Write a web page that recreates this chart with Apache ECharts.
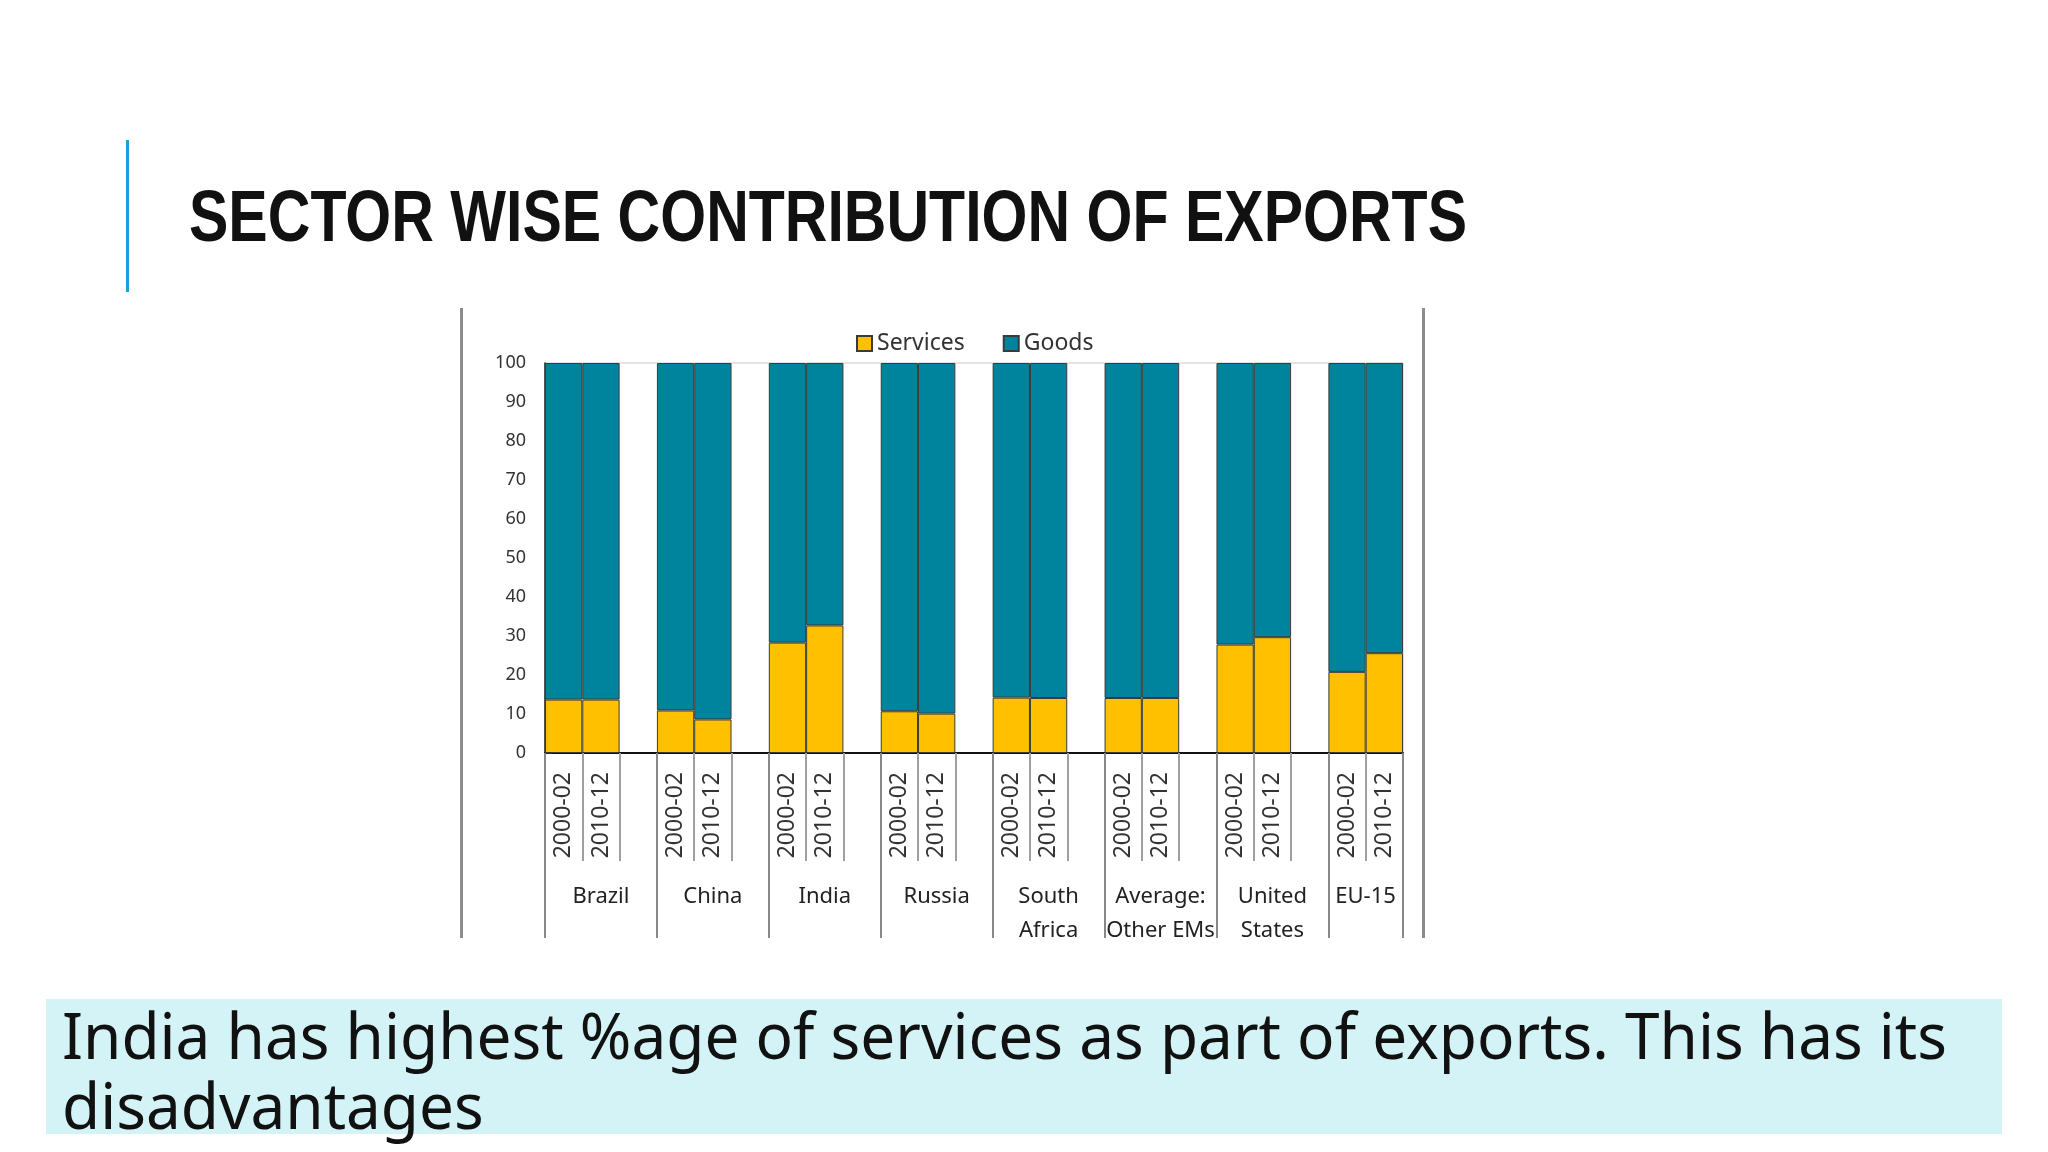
<!DOCTYPE html>
<html>
<head>
<meta charset="utf-8">
<title>Sector wise contribution of exports</title>
<script src="https://cdn.jsdelivr.net/npm/echarts@6/dist/echarts.min.js"></script>
<style>
    html, body { margin: 0; padding: 0; background: #fff; }
    #chart { width: 2048px; height: 1152px; }
</style>
</head>
<body>
<div id="chart"></div>
<script>
// 数据
var countries = ['Brazil', 'China', 'India', 'Russia', 'South\nAfrica', 'Average:\nOther EMs', 'United\nStates', 'EU-15'];
var periods = ['2000-02', '2010-12'];
var services0002 = [13.7, 10.9, 28.3, 10.7, 14.2, 14.1, 27.8, 20.8];
var services1012 = [13.7, 8.6, 32.7, 10.1, 14.1, 14.1, 29.7, 25.6];
var goods0002 = [86.3, 89.1, 71.7, 89.3, 85.8, 85.9, 72.2, 79.2];
var goods1012 = [86.3, 91.4, 67.3, 89.9, 85.9, 85.9, 70.3, 74.4];

var titleText = 'SECTOR WISE CONTRIBUTION OF EXPORTS';
var noteText = 'India has highest %age of services as part of exports. This has its\ndisadvantages';

// 每个国家: 两根柱子 + 一个空位 (最后一组没有空位)
var last = countries.length - 1;
var slotLabels = [], servicesData = [], goodsData = [], countryLabels = [];
for (var i = 0; i < countries.length; i++) {
    slotLabels.push(periods[0], periods[1]);
    servicesData.push(services0002[i], services1012[i]);
    goodsData.push(goods0002[i], goods1012[i]);
    if (i < last) {
        slotLabels.push('');
        servicesData.push('-');
        goodsData.push('-');
        countryLabels.push('', countries[i], '');
    } else {
        // 两格宽的组, 标签往右挪半格
        countryLabels.push({ value: countries[i], textStyle: { padding: [0, 0, 0, 37] } }, '');
    }
}

// 文字宽度 -> 横向缩放
function fitScale(text, font, target) {
    var ctx = document.createElement('canvas').getContext('2d');
    ctx.font = font;
    return target / ctx.measureText(text).width;
}

var chart = echarts.init(document.getElementById('chart'));
var font = 'Noto Sans';
var titleScale = fitScale(titleText, 'bold 68px "Liberation Sans"', 1278);
var noteScale = fitScale(noteText.split('\n')[0], '63px "Noto Sans"', 1885);

var option = {
    backgroundColor: '#fff',
    animation: false,
    legend: {
        data: ['Services', 'Goods'],
        left: 851,
        top: 327,
        icon: 'rect',
        itemWidth: 15,
        itemHeight: 15,
        itemGap: 38,
        textStyle: { fontFamily: font, fontSize: 23, color: '#333' }
    },
    grid: {
        left: 545,
        top: 363,
        width: 858,
        height: 390,
        show: true,
        borderColor: '#c8c8c8',
        borderWidth: 1
    },
    xAxis: [
        {
            type: 'category',
            position: 'bottom',
            data: slotLabels,
            axisLine: { lineStyle: { color: '#111', width: 2 } },
            axisTick: { show: true, interval: 0, length: 108, lineStyle: { color: '#a0a0a0', width: 2 } },
            axisLabel: { interval: 0, rotate: 90, margin: 19, fontFamily: font, fontSize: 23, color: '#333' }
        },
        {
            type: 'category',
            position: 'bottom',
            data: countryLabels,
            axisLine: { show: false },
            axisTick: {
                show: true,
                interval: function (index) { return index % 3 === 0; },
                length: 185,
                lineStyle: { color: '#888', width: 2 }
            },
            axisLabel: { interval: 0, margin: 127, fontFamily: font, fontSize: 22, lineHeight: 34, color: '#222' }
        }
    ],
    yAxis: {
        type: 'value',
        min: 0,
        max: 100,
        interval: 10,
        axisLine: { show: true, lineStyle: { color: '#222', width: 1.5 } },
        axisTick: { show: true, inside: true, length: 7, lineStyle: { color: '#222' } },
        axisLabel: { margin: 19, fontFamily: font, fontSize: 18, color: '#333' },
        splitLine: { show: false }
    },
    series: [
        {
            name: 'Services',
            type: 'bar',
            stack: 'total',
            xAxisIndex: 0,
            barCategoryGap: 0,
            data: servicesData,
            itemStyle: { color: '#FFC000', borderColor: '#3a3a3a', borderWidth: 1 }
        },
        {
            name: 'Goods',
            type: 'bar',
            stack: 'total',
            xAxisIndex: 0,
            barCategoryGap: 0,
            data: goodsData,
            itemStyle: { color: '#00849E', borderColor: '#3a3a3a', borderWidth: 1 }
        }
    ],
    graphic: [
        // 左侧蓝线
        { type: 'rect', shape: { x: 126, y: 140, width: 3, height: 152 }, style: { fill: '#1C9ED8' } },
        // 标题
        {
            type: 'text', x: 189, y: 221, scaleX: titleScale, scaleY: 1.05,
            style: {
                text: titleText,
                fontFamily: 'Liberation Sans', fontWeight: 'bold', fontSize: 68,
                fill: '#111', verticalAlign: 'middle'
            }
        },
        // 图片边框
        { type: 'rect', shape: { x: 460, y: 308, width: 3, height: 630 }, style: { fill: '#8c8c8c' } },
        { type: 'rect', shape: { x: 1422, y: 308, width: 3, height: 630 }, style: { fill: '#8c8c8c' } },
        // 底部说明
        { type: 'rect', shape: { x: 46, y: 999, width: 1956, height: 135 }, style: { fill: '#D4F3F6' } },
        {
            type: 'text', x: 62, y: 1006, scaleX: noteScale,
            style: {
                text: noteText,
                fontFamily: font, fontSize: 63, lineHeight: 70, fill: '#111', verticalAlign: 'top'
            }
        }
    ]
};

chart.setOption(option);
</script>
</body>
</html>
